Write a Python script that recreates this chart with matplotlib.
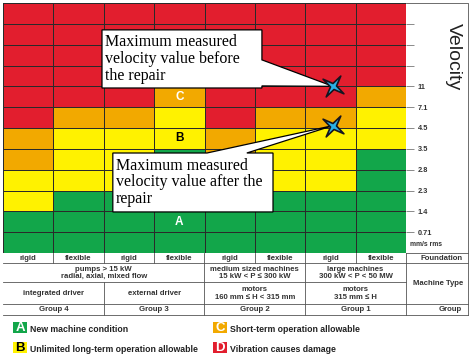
import numpy as np
import matplotlib.pyplot as plt
from matplotlib.colors import ListedColormap
from matplotlib.patches import Polygon, Rectangle
from matplotlib.path import Path

W, H = 474, 358

# Daten
foundations = ['rigid', 'flexible'] * 4
groups = ['Group 4', 'Group 3', 'Group 2', 'Group 1']
machine_types = ['pumps > 15 kW\nradial, axial, mixed flow',
                 'medium sized machines\n15 kW < P \u2264 300 kW',
                 'large machines\n300 kW < P < 50 MW']
drivers = ['integrated driver', 'external driver',
           'motors\n160 mm \u2264 H < 315 mm', 'motors\n315 mm \u2264 H']
boundaries = [0.71, 1.4, 2.3, 2.8, 3.5, 4.5, 7.1, 11]
ab_limit = [1.4, 2.3, 2.3, 3.5, 1.4, 2.3, 2.3, 3.5]
bc_limit = [2.8, 4.5, 4.5, 7.1, 2.8, 4.5, 4.5, 7.1]
cd_limit = [4.5, 7.1, 7.1, 11, 4.5, 7.1, 7.1, 11]
n_rows = 12
zone_letters = ['A', 'B', 'C', 'D']
zone_names = ['New machine condition', 'Unlimited long-term operation allowable',
              'Short-term operation allowable', 'Vibration causes damage']
zone_colors = ['#12A64A', '#FFF200', '#F2A900', '#E21E2E']
measured_col = 6.55
before_value = 11.0
after_value = 4.8

SANS = ['Liberation Sans', 'DejaVu Sans']
SERIF = ['Liberation Serif', 'DejaVu Serif']


def pos(v):
    # mm/s -> Zeilenposition (Grenze 0.71 liegt bei 1, 11 bei 8)
    return np.interp(v, boundaries, np.arange(1, len(boundaries) + 1))


# Zonen pro Zelle
zone = np.zeros((n_rows, len(foundations)), dtype=int)
for c in range(len(foundations)):
    for r in range(n_rows):
        zone[r, c] = sum(r + 1 > pos(t) for t in (ab_limit[c], bc_limit[c], cd_limit[c]))

fig = plt.figure(figsize=(W / 100, H / 100), dpi=100)

ax = fig.add_axes([3 / W, 1 - 253 / H, 403 / W, 250 / H])
ax.pcolormesh(np.arange(len(foundations) + 1), np.arange(n_rows + 1), zone,
              cmap=ListedColormap(zone_colors), vmin=-0.5, vmax=3.5,
              edgecolors='#2a2a2a', linewidth=0.6)
ax.set_xlim(0, len(foundations))
ax.set_ylim(0, n_rows)
ax.set_xticks([])
ax.yaxis.tick_right()
ax.set_yticks(np.arange(1, n_rows))
ax.set_yticklabels([str(b) for b in boundaries] + [''] * (n_rows - 1 - len(boundaries)),
                   fontfamily=SANS, fontweight='bold')
ax.tick_params(axis='y', length=6, width=0.6, color='#777', labelsize=5.3,
               labelcolor='#333', pad=2.5)
for s in ax.spines.values():
    s.set_visible(False)

# Buchstaben im Raster
for letter, yv, col in [('C', 7.5, 'white'), ('B', 5.5, 'black'), ('A', 1.5, 'white')]:
    ax.text(3.5, yv, letter, ha='center', va='center', fontsize=8.5,
            fontweight='bold', color=col, fontfamily=SANS, zorder=4)

# Sterne
star_pts = []
for k in range(8):
    a = np.deg2rad(45 * k + 55)
    r = 1.0 if k % 2 == 0 else 0.24
    star_pts.append((r * np.cos(a), r * np.sin(a)))
star = Path(star_pts + [star_pts[0]], closed=True)
p1 = (measured_col, pos(before_value))
p2 = (measured_col, pos(after_value))
ax.plot([p1[0], p2[0]], [p1[1], p2[1]], ls='none', marker=star, markersize=15,
        markerfacecolor='#2AB0E6', markeredgecolor='#151520', markeredgewidth=1.2,
        zorder=6, clip_on=False)

# Sprechblasen
x0, x1, yt, yb = 1.965, 5.14, 10.71, 7.92
bubble1 = [(x0, yt), (x1, yt), (x1, 9.27), p1, (x1, 8.02), (x1, yb), (x0, yb)]
ax.add_patch(Polygon(bubble1, closed=True, fc='white', ec='black', lw=0.9, zorder=5))
ax.text(x0 + 0.06, (yt + yb) / 2, 'Maximum measured\nvelocity value before\nthe repair',
        ha='left', va='center', fontsize=11.5, fontfamily=SERIF, linespacing=1.05, zorder=6)

x0, x1, yt, yb = 2.18, 5.36, 4.80, 1.97
bubble2 = [(x0, yt), (4.05, yt), p2, (4.84, yt), (x1, yt), (x1, yb), (x0, yb)]
ax.add_patch(Polygon(bubble2, closed=True, fc='white', ec='black', lw=0.9, zorder=5))
ax.text(x0 + 0.06, (yt + yb) / 2, 'Maximum measured\nvelocity value after the\nrepair',
        ha='left', va='center', fontsize=11.5, fontfamily=SERIF, linespacing=1.05, zorder=6)

# Tabelle und Legende in Pixelkoordinaten
ov = fig.add_axes([0, 0, 1, 1])
ov.set_xlim(0, W)
ov.set_ylim(H, 0)
ov.set_axis_off()

edges = 3 + 403 / 8 * np.arange(9)
cx = (edges[:-1] + edges[1:]) / 2
R = 468
lc = '#555'
lw = 0.6
tk = dict(fontsize=5.6, fontweight='bold', color='#333', fontfamily=SANS,
          va='center', linespacing=1.1)

# Rahmen rechts
ov.plot([406, R, R], [3, 3, 315], color=lc, lw=lw)
ov.plot([406, R], [253, 253], color=lc, lw=lw)
ov.text(453, 57, 'Velocity', rotation=270, ha='center', va='center',
        fontsize=14, color='#222', fontfamily=SANS)
ov.text(410, 244, 'mm/s rms', ha='left', va='center', fontsize=4.9,
        fontweight='bold', color='#333', fontfamily=SANS)

for yy in (263, 304, 315):
    ov.plot([3, R], [yy, yy], color=lc, lw=lw)
ov.plot([3, 406], [282, 282], color=lc, lw=lw)
ov.plot([edges[1:8], edges[1:8]], [[253] * 7, [263] * 7], color=lc, lw=lw)
ov.plot([406, 406], [253, 315], color=lc, lw=lw)
for xx in (edges[4], edges[6]):
    ov.plot([xx, xx], [263, 315], color=lc, lw=lw)
ov.plot([edges[2], edges[2]], [282, 315], color=lc, lw=lw)

for i, f in enumerate(foundations):
    ov.text(cx[i], 258, f, ha='center', **tk)
ov.text(463, 258, 'Foundation', ha='right', **tk)

mt_x = [(edges[0] + edges[4]) / 2, (edges[4] + edges[6]) / 2, (edges[6] + edges[8]) / 2]
for x, t in zip(mt_x, machine_types):
    ov.text(x, 273, t, ha='center', **tk)
ov.text(463, 283.5, 'Machine Type', ha='right', **tk)

dr_x = [(edges[0] + edges[2]) / 2, (edges[2] + edges[4]) / 2] + mt_x[1:]
for x, t in zip(dr_x, drivers):
    ov.text(x, 293.5, t, ha='center', **tk)

for i, g in enumerate(groups):
    ov.text((edges[2 * i] + edges[2 * i + 2]) / 2, 309.5, g, ha='center', **tk)
ov.text(462, 309.5, 'Group', ha='right', **tk)

# Legende
leg_pos = [(13, 322), (13, 342), (213, 322), (213, 342)]
for (lx, ly), letter, name, colr in zip(leg_pos, zone_letters, zone_names, zone_colors):
    ov.add_patch(Rectangle((lx, ly), 14, 11, fc=colr, ec='none'))
    ov.text(lx + 7, ly + 6, letter, ha='center', va='center', fontsize=9.5,
            fontweight='bold', fontfamily=SANS,
            color='black' if letter == 'B' else 'white')
    ov.text(lx + 17, ly + 7.5, name, ha='left', va='center', fontsize=6.3,
            fontweight='bold', color='#222', fontfamily=SANS)

fig.savefig('out.png', dpi=100)
